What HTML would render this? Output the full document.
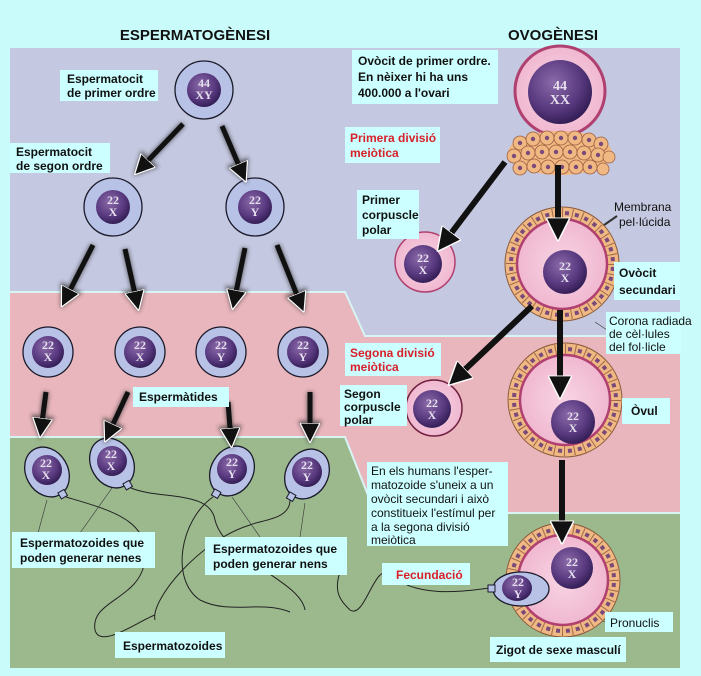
<!DOCTYPE html>
<html><head><meta charset="utf-8"><style>
html,body{margin:0;padding:0;background:#c9fbfb;}
svg{display:block;}
text{font-family:"Liberation Sans",sans-serif;font-weight:bold;font-size:12px;fill:#111;}
.r{fill:#d8202a;}
.n{font-family:"Liberation Serif",serif;font-size:12px;fill:#e6e0ee;text-anchor:middle;font-weight:bold;}
.lb{fill:#ccffff;}
.nb{font-weight:normal;}
</style></head><body>
<svg width="701" height="676" viewBox="0 0 701 676" xmlns="http://www.w3.org/2000/svg">
<defs>
<radialGradient id="nuc" cx="0.4" cy="0.35" r="0.7"><stop offset="0" stop-color="#8a6aa8"/><stop offset="0.6" stop-color="#5a3a80"/><stop offset="1" stop-color="#2e1a50"/></radialGradient>
<radialGradient id="pk" cx="0.5" cy="0.5" r="0.5"><stop offset="0" stop-color="#f8d4e4"/><stop offset="1" stop-color="#f0b8d0"/></radialGradient>
<filter id="sh" x="-30%" y="-30%" width="160%" height="160%"><feGaussianBlur stdDeviation="2"/></filter>
<marker id="ah" viewBox="0 0 10 10" refX="6" refY="5" markerWidth="4" markerHeight="4" orient="auto"><path d="M0,0 L10,5 L0,10 z" fill="#111" stroke="#fff" stroke-width="0.6"/></marker>
<marker id="ahs" viewBox="0 0 10 10" refX="6" refY="5" markerWidth="4" markerHeight="4" orient="auto"><path d="M0,0 L10,5 L0,10 z" fill="#333"/></marker>
</defs>
<rect width="701" height="676" fill="#c9fbfb"/>
<rect x="10" y="48" width="670" height="620" fill="#c4c8e0"/>
<polygon points="10,292 345,292 365,336 680,336 680,668 10,668" fill="#e8b6bc"/>
<polygon points="10,437 345,437 375,513 680,513 680,668 10,668" fill="#9cb98e"/>
<polyline points="10,292 345,292 365,336 680,336" fill="none" stroke="#d8f4f4" stroke-width="2"/>
<polyline points="10,437 345,437 375,513 680,513" fill="none" stroke="#d8f4f4" stroke-width="2"/>
<text x="195" y="40" text-anchor="middle" style="font-size:15px">ESPERMATOGÈNESI</text>
<text x="553" y="40" text-anchor="middle" style="font-size:15px">OVOGÈNESI</text>

<g fill="none" stroke="#222" stroke-width="1">
<path d="M66,497 C110,510 150,520 145,560 C140,600 90,600 95,630 C100,650 140,620 155,615"/>
<path d="M131,488 C160,500 210,490 215,520 C225,560 300,580 305,610"/>
<path d="M213,497 C180,520 170,580 200,600 C230,615 260,600 290,612"/>
<path d="M290,500 C290,520 260,520 250,525 C200,540 150,600 155,620"/>
<path d="M490,588 C470,590 420,600 390,575 C375,560 365,620 350,610 C340,600 330,590 345,560"/>
</g>
<g fill="none" stroke="#333" stroke-width="0.6">
<line x1="47" y1="500" x2="38" y2="533"/><line x1="112" y1="488" x2="80" y2="533"/>
<line x1="232" y1="497" x2="260" y2="537"/><line x1="305" y1="503" x2="300" y2="537"/>
<line x1="565" y1="590" x2="608" y2="620"/><line x1="530" y1="598" x2="606" y2="622"/>
<line x1="597" y1="230" x2="617" y2="216" stroke-width="2"/>
<line x1="595" y1="322" x2="607" y2="330"/>
</g>

<g stroke="#1a1a2a" stroke-width="1.3">
<circle cx="204" cy="90" r="29" fill="#b8c2e6"/><circle cx="204" cy="90" r="17" fill="url(#nuc)" stroke="none"/>
<circle cx="113" cy="207" r="29" fill="#b8c2e6"/><circle cx="113" cy="207" r="17" fill="url(#nuc)" stroke="none"/>
<circle cx="255" cy="207" r="29" fill="#b8c2e6"/><circle cx="255" cy="207" r="17" fill="url(#nuc)" stroke="none"/>
<circle cx="48" cy="352" r="25" fill="#b8c2e6"/><circle cx="48" cy="352" r="16" fill="url(#nuc)" stroke="none"/>
<circle cx="140" cy="352" r="25" fill="#b8c2e6"/><circle cx="140" cy="352" r="16" fill="url(#nuc)" stroke="none"/>
<circle cx="221" cy="352" r="25" fill="#b8c2e6"/><circle cx="221" cy="352" r="16" fill="url(#nuc)" stroke="none"/>
<circle cx="303" cy="352" r="25" fill="#b8c2e6"/><circle cx="303" cy="352" r="16" fill="url(#nuc)" stroke="none"/>
<ellipse cx="47" cy="472" rx="21" ry="26" fill="#b8c2e6" transform="rotate(-30 47 472)"/><circle cx="47" cy="470" r="15" fill="url(#nuc)" stroke="none"/>
<rect x="59" y="491" width="7" height="7" fill="#b8c2e6" stroke-width="1" transform="rotate(-30 62 494)"/>
<ellipse cx="112" cy="463" rx="21" ry="26" fill="#b8c2e6" transform="rotate(-30 112 463)"/><circle cx="112" cy="461" r="15" fill="url(#nuc)" stroke="none"/>
<rect x="124" y="482" width="7" height="7" fill="#b8c2e6" stroke-width="1" transform="rotate(-30 127 485)"/>
<ellipse cx="232" cy="471" rx="21" ry="26" fill="#b8c2e6" transform="rotate(30 232 471)"/><circle cx="232" cy="469" r="15" fill="url(#nuc)" stroke="none"/>
<rect x="213" y="490" width="7" height="7" fill="#b8c2e6" stroke-width="1" transform="rotate(30 216 493)"/>
<ellipse cx="307" cy="474" rx="21" ry="26" fill="#b8c2e6" transform="rotate(30 307 474)"/><circle cx="307" cy="472" r="15" fill="url(#nuc)" stroke="none"/>
<rect x="288" y="493" width="7" height="7" fill="#b8c2e6" stroke-width="1" transform="rotate(30 291 496)"/>
</g>

<circle cx="560" cy="91" r="45" fill="url(#pk)" stroke="#b04070" stroke-width="3"/>
<circle cx="560" cy="92" r="32" fill="url(#nuc)"/>
<g fill="#f0b882" stroke="#a06040" stroke-width="0.8">
<ellipse cx="560" cy="153" rx="52" ry="22" fill="#f0b882" stroke="none"/>
<circle cx="520" cy="143" r="7"/><circle cx="533" cy="139" r="7"/><circle cx="547" cy="138" r="7"/><circle cx="561" cy="138" r="7"/><circle cx="575" cy="138" r="7"/><circle cx="589" cy="140" r="7"/><circle cx="601" cy="144" r="7"/>
<circle cx="514" cy="156" r="7"/><circle cx="528" cy="153" r="7"/><circle cx="542" cy="152" r="7"/><circle cx="556" cy="152" r="7"/><circle cx="570" cy="152" r="7"/><circle cx="584" cy="153" r="7"/><circle cx="598" cy="155" r="7"/><circle cx="609" cy="157" r="6"/>
<circle cx="520" cy="168" r="7"/><circle cx="534" cy="166" r="7"/><circle cx="548" cy="167" r="7"/><circle cx="562" cy="167" r="7"/><circle cx="576" cy="167" r="7"/><circle cx="590" cy="167" r="7"/><circle cx="603" cy="169" r="6"/>
</g>
<g fill="#7a4a7a">
<circle cx="520" cy="143" r="2.2"/><circle cx="533" cy="139" r="2.2"/><circle cx="547" cy="138" r="2.2"/><circle cx="561" cy="138" r="2.2"/><circle cx="575" cy="138" r="2.2"/><circle cx="589" cy="140" r="2.2"/><circle cx="601" cy="144" r="2.2"/>
<circle cx="514" cy="156" r="2.2"/><circle cx="528" cy="153" r="2.2"/><circle cx="542" cy="152" r="2.2"/><circle cx="556" cy="152" r="2.2"/><circle cx="570" cy="152" r="2.2"/><circle cx="584" cy="153" r="2.2"/><circle cx="598" cy="155" r="2.2"/>
<circle cx="520" cy="168" r="2.2"/><circle cx="534" cy="166" r="2.2"/><circle cx="548" cy="167" r="2.2"/><circle cx="562" cy="167" r="2.2"/><circle cx="576" cy="167" r="2.2"/><circle cx="590" cy="167" r="2.2"/>
</g>

<g>
<circle cx="562" cy="264" r="57" fill="#f0b882" stroke="#8a5a3a" stroke-width="1"/>
<circle cx="562" cy="264" r="51" fill="none" stroke="#a06a4a" stroke-width="10" stroke-dasharray="1 9"/>
<circle cx="562" cy="264" r="51" fill="none" stroke="#7a4a7a" stroke-width="4" stroke-dasharray="4 6" stroke-dashoffset="-3"/>
<circle cx="562" cy="264" r="45" fill="url(#pk)" stroke="#b04070" stroke-width="2.5"/>
<circle cx="565" cy="272" r="22" fill="url(#nuc)"/>

<circle cx="565" cy="400" r="57" fill="#f0b882" stroke="#8a5a3a" stroke-width="1"/>
<circle cx="565" cy="400" r="51" fill="none" stroke="#a06a4a" stroke-width="10" stroke-dasharray="1 9"/>
<circle cx="565" cy="400" r="51" fill="none" stroke="#7a4a7a" stroke-width="4" stroke-dasharray="4 6" stroke-dashoffset="-3"/>
<circle cx="565" cy="400" r="45" fill="url(#pk)" stroke="#b04070" stroke-width="2.5"/>
<circle cx="573" cy="422" r="22" fill="url(#nuc)"/>

<circle cx="563" cy="580" r="57" fill="#f0b882" stroke="#8a5a3a" stroke-width="1"/>
<circle cx="563" cy="580" r="51" fill="none" stroke="#a06a4a" stroke-width="10" stroke-dasharray="1 9"/>
<circle cx="563" cy="580" r="51" fill="none" stroke="#7a4a7a" stroke-width="4" stroke-dasharray="4 6" stroke-dashoffset="-3"/>
<circle cx="563" cy="580" r="45" fill="url(#pk)" stroke="#b04070" stroke-width="2.5"/>
<circle cx="572" cy="568" r="21" fill="url(#nuc)"/>
<ellipse cx="521" cy="589" rx="28" ry="17" fill="#b8c2e6" stroke="#1a1a2a" stroke-width="1.3"/>
<ellipse cx="517" cy="588" rx="15" ry="13" fill="url(#nuc)"/>
<rect x="488" y="585" width="7" height="7" fill="#b8c2e6" stroke="#1a1a2a" stroke-width="1"/>

<circle cx="425" cy="262" r="30" fill="url(#pk)" stroke="#b04070" stroke-width="1.5"/>
<circle cx="423" cy="264" r="19" fill="url(#nuc)"/>
<circle cx="434" cy="408" r="28" fill="url(#pk)" stroke="#702040" stroke-width="1.5"/>
<circle cx="432" cy="409" r="19" fill="url(#nuc)"/>
</g>

<g>
<text class="n" x="204" y="87">44</text><text class="n" x="204" y="99">XY</text>
<text class="n" x="113" y="204">22</text><text class="n" x="113" y="216">X</text>
<text class="n" x="255" y="204">22</text><text class="n" x="255" y="216">Y</text>
<text class="n" x="48" y="349">22</text><text class="n" x="48" y="361">X</text>
<text class="n" x="140" y="349">22</text><text class="n" x="140" y="361">X</text>
<text class="n" x="221" y="349">22</text><text class="n" x="221" y="361">Y</text>
<text class="n" x="303" y="349">22</text><text class="n" x="303" y="361">Y</text>
<text class="n" x="46" y="467">22</text><text class="n" x="46" y="479">X</text>
<text class="n" x="111" y="458">22</text><text class="n" x="111" y="470">X</text>
<text class="n" x="232" y="466">22</text><text class="n" x="232" y="478">Y</text>
<text class="n" x="307" y="469">22</text><text class="n" x="307" y="481">Y</text>
<text class="n" x="560" y="90" style="font-size:14px">44</text><text class="n" x="560" y="104" style="font-size:14px">XX</text>
<text class="n" x="565" y="270">22</text><text class="n" x="565" y="282">X</text>
<text class="n" x="573" y="420">22</text><text class="n" x="573" y="432">X</text>
<text class="n" x="572" y="566">22</text><text class="n" x="572" y="578">X</text>
<text class="n" x="518" y="586">22</text><text class="n" x="518" y="598">Y</text>
<text class="n" x="423" y="262">22</text><text class="n" x="423" y="274">X</text>
<text class="n" x="432" y="407">22</text><text class="n" x="432" y="419">X</text>
</g>

<g stroke-linecap="butt">
<g filter="url(#sh)" stroke="#333" stroke-width="6" opacity="0.7">
<line x1="183" y1="124" x2="140" y2="169" marker-end="url(#ahs)"/>
<line x1="222" y1="126" x2="243" y2="175" marker-end="url(#ahs)"/>
<line x1="93" y1="245" x2="65" y2="300" marker-end="url(#ahs)"/>
<line x1="125" y1="249" x2="137" y2="303" marker-end="url(#ahs)"/>
<line x1="245" y1="248" x2="234" y2="302" marker-end="url(#ahs)"/>
<line x1="277" y1="245" x2="301" y2="305" marker-end="url(#ahs)"/>
<line x1="46" y1="392" x2="41" y2="430" marker-end="url(#ahs)"/>
<line x1="128" y1="392" x2="108" y2="435" marker-end="url(#ahs)"/>
<line x1="228" y1="402" x2="231" y2="440" marker-end="url(#ahs)"/>
<line x1="310" y1="392" x2="310" y2="435" marker-end="url(#ahs)"/>
</g>
<g stroke="#111" stroke-width="5">
<line x1="183" y1="124" x2="140" y2="169" marker-end="url(#ah)"/>
<line x1="222" y1="126" x2="243" y2="175" marker-end="url(#ah)"/>
<line x1="93" y1="245" x2="65" y2="300" marker-end="url(#ah)"/>
<line x1="125" y1="249" x2="137" y2="303" marker-end="url(#ah)"/>
<line x1="245" y1="248" x2="234" y2="302" marker-end="url(#ah)"/>
<line x1="277" y1="245" x2="301" y2="305" marker-end="url(#ah)"/>
<line x1="46" y1="392" x2="41" y2="430" marker-end="url(#ah)"/>
<line x1="128" y1="392" x2="108" y2="435" marker-end="url(#ah)"/>
<line x1="228" y1="402" x2="231" y2="440" marker-end="url(#ah)"/>
<line x1="310" y1="392" x2="310" y2="435" marker-end="url(#ah)"/>
<line x1="505" y1="162" x2="443" y2="244" stroke-width="6" marker-end="url(#ah)"/>
<line x1="558" y1="165" x2="558" y2="232" stroke-width="6" marker-end="url(#ah)"/>
<line x1="532" y1="306" x2="455" y2="379" stroke-width="6" marker-end="url(#ah)"/>
<line x1="560" y1="310" x2="560" y2="390" stroke-width="6" marker-end="url(#ah)"/>
<line x1="562" y1="460" x2="562" y2="535" stroke-width="6" marker-end="url(#ah)"/>
</g>
</g>

<rect class="lb" x="60" y="70" width="98" height="31"/>
<text x="67" y="83">Espermatocit</text><text x="67" y="97">de primer ordre</text>
<rect class="lb" x="10" y="143" width="100" height="30"/>
<text x="16" y="156">Espermatocit</text><text x="16" y="170">de segon ordre</text>
<rect class="lb" x="133" y="387" width="96" height="20"/>
<text x="139" y="401">Espermàtides</text>
<rect class="lb" x="12" y="532" width="143" height="36"/>
<text x="20" y="547">Espermatozoides que</text><text x="20" y="562">poden generar nenes</text>
<rect class="lb" x="205" y="537" width="142" height="38"/>
<text x="213" y="553">Espermatozoides que</text><text x="213" y="568">poden generar nens</text>
<rect class="lb" x="115" y="632" width="110" height="26"/>
<text x="123" y="650">Espermatozoides</text>

<rect class="lb" x="352" y="50" width="146" height="54"/>
<text x="358" y="65">Ovòcit de primer ordre.</text><text x="358" y="81">En nèixer hi ha uns</text><text x="358" y="97">400.000 a l'ovari</text>
<rect class="lb" x="345" y="127" width="95" height="36"/>
<text class="r" x="350" y="142">Primera divisió</text><text class="r" x="350" y="157">meiòtica</text>
<rect class="lb" x="357" y="190" width="62" height="49"/>
<text x="362" y="204">Primer</text><text x="362" y="219">corpuscle</text><text x="362" y="234">polar</text>
<text class="nb" x="614" y="211">Membrana</text><text class="nb" x="619" y="226">pel·lúcida</text>
<rect class="lb" x="614" y="262" width="66" height="38"/>
<text x="619" y="277">Ovòcit</text><text x="619" y="294">secundari</text>
<rect class="lb" x="606" y="312" width="75" height="42"/>
<text class="nb" x="609" y="325">Corona radiada</text><text class="nb" x="609" y="338">de cèl·lules</text><text class="nb" x="609" y="351">del fol·licle</text>
<rect class="lb" x="345" y="343" width="96" height="33"/>
<text class="r" x="350" y="357">Segona divisió</text><text class="r" x="350" y="371">meiòtica</text>
<rect class="lb" x="340" y="385" width="67" height="41"/>
<text x="344" y="398">Segon</text><text x="344" y="411">corpuscle</text><text x="344" y="424">polar</text>
<rect class="lb" x="622" y="398" width="48" height="26"/>
<text x="631" y="415">Òvul</text>
<rect class="lb" x="367" y="462" width="141" height="84"/>
<text class="nb" x="371" y="475">En els humans l'esper-</text><text class="nb" x="371" y="489">matozoide s'uneix a un</text><text class="nb" x="371" y="503">ovòcit secundari i això</text><text class="nb" x="371" y="517">constitueix l'estímul per</text><text class="nb" x="371" y="531">a la segona divisió</text><text class="nb" x="371" y="544">meiòtica</text>
<rect class="lb" x="382" y="563" width="88" height="22"/>
<text class="r" x="396" y="579">Fecundació</text>
<rect class="lb" x="605" y="612" width="68" height="20"/>
<text class="nb" x="610" y="627">Pronuclis</text>
<rect class="lb" x="490" y="637" width="136" height="25"/>
<text x="496" y="654">Zigot de sexe masculí</text>
</svg>
</body></html>
